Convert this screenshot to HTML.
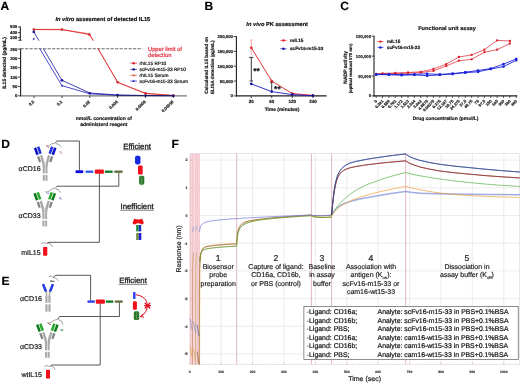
<!DOCTYPE html>
<html lang="en"><head><meta charset="utf-8"><title>Figure</title>
<style>html,body{margin:0;padding:0;background:#fff;overflow:hidden}svg{display:block}text{text-rendering:geometricPrecision;font-family:'Liberation Sans', Arial, sans-serif;}</style>
</head><body>
<svg width="520" height="384" viewBox="0 0 520 384">
<rect x="0" y="0" width="520" height="384" fill="#fff"/>
<g id="panelA">
<text x="0.6" y="9.9" font-size="12" font-weight="bold" text-anchor="start" fill="#000" stroke="#000" stroke-width="0.16">A</text>
<text x="102.8" y="20.6" font-size="5.7" font-weight="bold" text-anchor="middle" fill="#111" stroke="#111" stroke-width="0.2"><tspan font-style="italic">In vitro</tspan> assesment of detected IL15</text>
<line x1="20.3" y1="26.5" x2="20.3" y2="40.3" stroke="#1e1e1e" stroke-width="1.1"/>
<line x1="17.8" y1="26.9" x2="20.3" y2="26.9" stroke="#1e1e1e" stroke-width="0.8"/>
<text x="17.2" y="28.4" font-size="4.3" font-weight="bold" text-anchor="end" fill="#111" stroke="#111" stroke-width="0.16">500</text>
<line x1="17.8" y1="32.6" x2="20.3" y2="32.6" stroke="#1e1e1e" stroke-width="0.8"/>
<text x="17.2" y="34.1" font-size="4.3" font-weight="bold" text-anchor="end" fill="#111" stroke="#111" stroke-width="0.16">400</text>
<line x1="17.8" y1="37.6" x2="20.3" y2="37.6" stroke="#1e1e1e" stroke-width="0.8"/>
<text x="17.2" y="39.1" font-size="4.3" font-weight="bold" text-anchor="end" fill="#111" stroke="#111" stroke-width="0.16">300</text>
<line x1="18.3" y1="40.3" x2="21.8" y2="40.3" stroke="#1e1e1e" stroke-width="0.8"/>
<line x1="20.6" y1="48.4" x2="20.6" y2="96.3" stroke="#1e1e1e" stroke-width="1.1"/>
<line x1="18.0" y1="95.8" x2="20.6" y2="95.8" stroke="#1e1e1e" stroke-width="0.8"/>
<text x="17.4" y="97.3" font-size="4.3" font-weight="bold" text-anchor="end" fill="#111" stroke="#111" stroke-width="0.16">0</text>
<line x1="18.0" y1="86.44" x2="20.6" y2="86.44" stroke="#1e1e1e" stroke-width="0.8"/>
<text x="17.4" y="87.94" font-size="4.3" font-weight="bold" text-anchor="end" fill="#111" stroke="#111" stroke-width="0.16">50</text>
<line x1="18.0" y1="77.08" x2="20.6" y2="77.08" stroke="#1e1e1e" stroke-width="0.8"/>
<text x="17.4" y="78.58" font-size="4.3" font-weight="bold" text-anchor="end" fill="#111" stroke="#111" stroke-width="0.16">100</text>
<line x1="18.0" y1="67.72" x2="20.6" y2="67.72" stroke="#1e1e1e" stroke-width="0.8"/>
<text x="17.4" y="69.22" font-size="4.3" font-weight="bold" text-anchor="end" fill="#111" stroke="#111" stroke-width="0.16">150</text>
<line x1="18.0" y1="58.36" x2="20.6" y2="58.36" stroke="#1e1e1e" stroke-width="0.8"/>
<text x="17.4" y="59.86" font-size="4.3" font-weight="bold" text-anchor="end" fill="#111" stroke="#111" stroke-width="0.16">200</text>
<line x1="18.0" y1="48.99999999999999" x2="20.6" y2="48.99999999999999" stroke="#1e1e1e" stroke-width="0.8"/>
<text x="17.4" y="50.49999999999999" font-size="4.3" font-weight="bold" text-anchor="end" fill="#111" stroke="#111" stroke-width="0.16">250</text>
<line x1="34.0" y1="95.9" x2="34.0" y2="98.0" stroke="#1e1e1e" stroke-width="0.8"/>
<text x="34.6" y="102.0" font-size="4.15" font-weight="bold" text-anchor="end" fill="#111" stroke="#111" stroke-width="0.16" transform="rotate(-45 34.6 102.0)">0.5</text>
<line x1="62.0" y1="95.9" x2="62.0" y2="98.0" stroke="#1e1e1e" stroke-width="0.8"/>
<text x="62.6" y="102.0" font-size="4.15" font-weight="bold" text-anchor="end" fill="#111" stroke="#111" stroke-width="0.16" transform="rotate(-45 62.6 102.0)">0.1</text>
<line x1="89.8" y1="95.9" x2="89.8" y2="98.0" stroke="#1e1e1e" stroke-width="0.8"/>
<text x="90.39999999999999" y="102.0" font-size="4.15" font-weight="bold" text-anchor="end" fill="#111" stroke="#111" stroke-width="0.16" transform="rotate(-45 90.39999999999999 102.0)">0.02</text>
<line x1="117.6" y1="95.9" x2="117.6" y2="98.0" stroke="#1e1e1e" stroke-width="0.8"/>
<text x="118.19999999999999" y="102.0" font-size="4.15" font-weight="bold" text-anchor="end" fill="#111" stroke="#111" stroke-width="0.16" transform="rotate(-45 118.19999999999999 102.0)">0.004</text>
<line x1="145.5" y1="95.9" x2="145.5" y2="98.0" stroke="#1e1e1e" stroke-width="0.8"/>
<text x="146.1" y="102.0" font-size="4.15" font-weight="bold" text-anchor="end" fill="#111" stroke="#111" stroke-width="0.16" transform="rotate(-45 146.1 102.0)">0.0008</text>
<line x1="173.3" y1="95.9" x2="173.3" y2="98.0" stroke="#1e1e1e" stroke-width="0.8"/>
<text x="173.9" y="102.0" font-size="4.15" font-weight="bold" text-anchor="end" fill="#111" stroke="#111" stroke-width="0.16" transform="rotate(-45 173.9 102.0)">0.00016</text>
<line x1="20.6" y1="48.75" x2="142.5" y2="48.75" stroke="#2a2a2a" stroke-width="0.7" stroke-dasharray="3.2 1.3"/>
<text x="6.4" y="63" font-size="5.0" font-weight="bold" text-anchor="middle" fill="#111" stroke="#111" stroke-width="0.16" transform="rotate(-90 6.4 63)">IL15 detected (pg/mL)</text>
<text x="103.8" y="120.0" font-size="4.95" font-weight="bold" text-anchor="middle" fill="#111" stroke="#111" stroke-width="0.16">nmol/L concentration of</text>
<text x="103.8" y="126.0" font-size="4.95" font-weight="bold" text-anchor="middle" fill="#111" stroke="#111" stroke-width="0.16">administerd reagent</text>
<polyline points="33.80,29.60 61.90,29.80 88.60,33.60 93.00,40.30" fill="none" stroke="#e2452a" stroke-width="0.7" stroke-linejoin="round" stroke-linecap="round"/>
<polyline points="98.60,49.00 117.70,82.60 145.60,93.80 173.30,95.60" fill="none" stroke="#e2452a" stroke-width="0.6" stroke-linejoin="round" stroke-linecap="round"/>
<polyline points="33.80,29.40 61.90,29.40 89.40,34.60 93.20,40.30" fill="none" stroke="#dc1e28" stroke-width="0.8" stroke-linejoin="round" stroke-linecap="round"/>
<polyline points="98.00,49.00 117.70,82.20 145.60,93.30 173.30,95.40" fill="none" stroke="#dc1e28" stroke-width="0.8" stroke-linejoin="round" stroke-linecap="round"/>
<circle cx="33.80" cy="29.40" r="1.25" fill="#dc1e28"/>
<circle cx="61.90" cy="29.40" r="1.25" fill="#dc1e28"/>
<circle cx="89.40" cy="34.60" r="1.25" fill="#dc1e28"/>
<circle cx="117.70" cy="82.20" r="1.25" fill="#dc1e28"/>
<circle cx="145.60" cy="93.30" r="1.25" fill="#dc1e28"/>
<circle cx="173.30" cy="95.40" r="1.25" fill="#dc1e28"/>
<polyline points="33.80,31.90 38.80,40.30" fill="none" stroke="#14149a" stroke-width="0.8" stroke-linejoin="round" stroke-linecap="round"/>
<polyline points="40.00,49.00 61.90,85.60 89.80,93.80 117.60,95.30 145.50,95.60 173.30,95.70" fill="none" stroke="#1a1ac8" stroke-width="0.8" stroke-linejoin="round" stroke-linecap="round"/>
<polyline points="43.60,49.00 61.90,80.30 89.80,93.00 117.60,95.00 145.50,95.50 173.30,95.70" fill="none" stroke="#14149a" stroke-width="0.8" stroke-linejoin="round" stroke-linecap="round"/>
<circle cx="33.80" cy="31.90" r="1.3" fill="#14149a"/>
<polygon points="32.60,38.34 35.00,38.34 33.80,40.50" fill="#1a1ac8"/>
<circle cx="61.90" cy="80.30" r="1.35" fill="#14149a"/>
<polygon points="60.70,86.56 63.10,86.56 61.90,84.40" fill="#1a1ac8"/>
<circle cx="89.80" cy="93.20" r="1.25" fill="#14149a"/>
<circle cx="117.60" cy="95.10" r="1.25" fill="#14149a"/>
<circle cx="145.50" cy="95.50" r="1.25" fill="#14149a"/>
<circle cx="173.30" cy="95.70" r="1.25" fill="#14149a"/>
<line x1="20.1" y1="95.85" x2="187" y2="95.85" stroke="#1e1e1e" stroke-width="1.1" opacity="0.6"/>
<text x="148" y="51.3" font-size="5.75" font-weight="normal" text-anchor="start" fill="#e0303c" stroke="#e0303c" stroke-width="0.2">Upper limit of</text>
<text x="148" y="57.4" font-size="5.75" font-weight="normal" text-anchor="start" fill="#e0303c" stroke="#e0303c" stroke-width="0.2">detection</text>
<line x1="130.4" y1="63.2" x2="137.0" y2="63.2" stroke="#dc1e28" stroke-width="0.7"/>
<circle cx="133.70" cy="63.20" r="1.2" fill="#dc1e28"/>
<text x="139.6" y="64.85000000000001" font-size="4.75" font-weight="normal" text-anchor="start" fill="#111" stroke="#111" stroke-width="0.2">rhIL15 RP10</text>
<line x1="130.4" y1="69.4" x2="137.0" y2="69.4" stroke="#14149a" stroke-width="0.7"/>
<circle cx="133.70" cy="69.40" r="1.2" fill="#14149a"/>
<text x="139.6" y="71.05000000000001" font-size="4.75" font-weight="normal" text-anchor="start" fill="#111" stroke="#111" stroke-width="0.2">scFv16-m15-33 RP10</text>
<line x1="130.4" y1="75.3" x2="137.0" y2="75.3" stroke="#e2452a" stroke-width="0.7"/>
<polygon points="132.50,76.26 134.90,76.26 133.70,74.10" fill="#e2452a"/>
<text x="139.6" y="76.95" font-size="4.75" font-weight="normal" text-anchor="start" fill="#111" stroke="#111" stroke-width="0.2">rhIL15 Serum</text>
<line x1="130.4" y1="81.0" x2="137.0" y2="81.0" stroke="#1a1ac8" stroke-width="0.7"/>
<polygon points="132.50,81.96 134.90,81.96 133.70,79.80" fill="#1a1ac8"/>
<text x="139.6" y="82.65" font-size="4.75" font-weight="normal" text-anchor="start" fill="#111" stroke="#111" stroke-width="0.2">scFv16-m15-33 Serum</text>
</g>
<g id="panelB">
<text x="204.4" y="9.9" font-size="12" font-weight="bold" text-anchor="start" fill="#000" stroke="#000" stroke-width="0.16">B</text>
<text x="277.2" y="25.8" font-size="5.7" font-weight="bold" text-anchor="middle" fill="#111" stroke="#111" stroke-width="0.2"><tspan font-style="italic">In vivo</tspan> PK assessment</text>
<line x1="236.4" y1="36.0" x2="236.4" y2="96.4" stroke="#1e1e1e" stroke-width="1.1"/>
<line x1="235.9" y1="95.85" x2="326.6" y2="95.85" stroke="#1e1e1e" stroke-width="1.1"/>
<line x1="233.6" y1="95.9" x2="236.4" y2="95.9" stroke="#1e1e1e" stroke-width="0.8"/>
<text x="233.0" y="97.4" font-size="4.3" font-weight="bold" text-anchor="end" fill="#111" stroke="#111" stroke-width="0.16">0</text>
<line x1="233.6" y1="81.05000000000001" x2="236.4" y2="81.05000000000001" stroke="#1e1e1e" stroke-width="0.8"/>
<text x="233.0" y="82.55000000000001" font-size="4.3" font-weight="bold" text-anchor="end" fill="#111" stroke="#111" stroke-width="0.16">50,000</text>
<line x1="233.6" y1="66.2" x2="236.4" y2="66.2" stroke="#1e1e1e" stroke-width="0.8"/>
<text x="233.0" y="67.7" font-size="4.3" font-weight="bold" text-anchor="end" fill="#111" stroke="#111" stroke-width="0.16">100,000</text>
<line x1="233.6" y1="51.35000000000001" x2="236.4" y2="51.35000000000001" stroke="#1e1e1e" stroke-width="0.8"/>
<text x="233.0" y="52.85000000000001" font-size="4.3" font-weight="bold" text-anchor="end" fill="#111" stroke="#111" stroke-width="0.16">150,000</text>
<line x1="233.6" y1="36.50000000000001" x2="236.4" y2="36.50000000000001" stroke="#1e1e1e" stroke-width="0.8"/>
<text x="233.0" y="38.00000000000001" font-size="4.3" font-weight="bold" text-anchor="end" fill="#111" stroke="#111" stroke-width="0.16">200,000</text>
<line x1="251.3" y1="95.9" x2="251.3" y2="98.2" stroke="#1e1e1e" stroke-width="0.8"/>
<text x="251.3" y="103.2" font-size="4.5" font-weight="bold" text-anchor="middle" fill="#111" stroke="#111" stroke-width="0.16">30</text>
<line x1="271.7" y1="95.9" x2="271.7" y2="98.2" stroke="#1e1e1e" stroke-width="0.8"/>
<text x="271.7" y="103.2" font-size="4.5" font-weight="bold" text-anchor="middle" fill="#111" stroke="#111" stroke-width="0.16">60</text>
<line x1="292.2" y1="95.9" x2="292.2" y2="98.2" stroke="#1e1e1e" stroke-width="0.8"/>
<text x="292.2" y="103.2" font-size="4.5" font-weight="bold" text-anchor="middle" fill="#111" stroke="#111" stroke-width="0.16">120</text>
<line x1="313.0" y1="95.9" x2="313.0" y2="98.2" stroke="#1e1e1e" stroke-width="0.8"/>
<text x="313.0" y="103.2" font-size="4.5" font-weight="bold" text-anchor="middle" fill="#111" stroke="#111" stroke-width="0.16">240</text>
<text x="282.0" y="111.0" font-size="4.9" font-weight="bold" text-anchor="middle" fill="#111" stroke="#111" stroke-width="0.16">Time (minutes)</text>
<text x="208.3" y="65.3" font-size="4.75" font-weight="bold" text-anchor="middle" fill="#111" stroke="#111" stroke-width="0.16" transform="rotate(-90 208.3 65.3)">Calculated IL15 based on</text>
<text x="214.0" y="67.2" font-size="4.65" font-weight="bold" text-anchor="middle" fill="#111" stroke="#111" stroke-width="0.16" transform="rotate(-90 214.0 67.2)">ELISA detection (pg/mL)</text>
<line x1="251.3" y1="40.0" x2="251.3" y2="55.0" stroke="#f08a8a" stroke-width="0.7"/>
<line x1="249.9" y1="40.0" x2="252.7" y2="40.0" stroke="#f08a8a" stroke-width="0.7"/>
<line x1="271.7" y1="79.0" x2="271.7" y2="83.0" stroke="#f08a8a" stroke-width="0.7"/>
<line x1="251.3" y1="57.4" x2="251.3" y2="81.0" stroke="#222" stroke-width="0.9"/>
<line x1="249.2" y1="57.4" x2="253.4" y2="57.4" stroke="#222" stroke-width="0.9"/>
<line x1="249.6" y1="81.0" x2="253.0" y2="81.0" stroke="#222" stroke-width="0.9"/>
<line x1="271.7" y1="82.2" x2="271.7" y2="90.6" stroke="#222" stroke-width="0.9"/>
<line x1="269.9" y1="82.2" x2="273.5" y2="82.2" stroke="#222" stroke-width="0.9"/>
<text x="256.6" y="74.4" font-size="8.6" font-weight="bold" text-anchor="middle" fill="#111" stroke="#111" stroke-width="0.16">**</text>
<text x="277.4" y="91.8" font-size="8.6" font-weight="bold" text-anchor="middle" fill="#111" stroke="#111" stroke-width="0.16">**</text>
<polyline points="251.30,47.70 271.70,81.00 292.20,93.50 313.00,95.40" fill="none" stroke="#dc1e28" stroke-width="0.9" stroke-linejoin="round" stroke-linecap="round"/>
<circle cx="251.30" cy="47.70" r="1.3" fill="#dc1e28"/>
<circle cx="271.70" cy="81.00" r="1.3" fill="#dc1e28"/>
<circle cx="292.20" cy="93.50" r="1.3" fill="#dc1e28"/>
<circle cx="313.00" cy="95.40" r="1.3" fill="#dc1e28"/>
<polyline points="251.30,83.90 271.70,91.60 292.20,94.60 313.00,95.70" fill="none" stroke="#1a1ac8" stroke-width="0.9" stroke-linejoin="round" stroke-linecap="round"/>
<circle cx="251.30" cy="83.90" r="1.35" fill="#14149a"/>
<circle cx="271.70" cy="91.60" r="1.35" fill="#14149a"/>
<circle cx="292.20" cy="94.60" r="1.35" fill="#14149a"/>
<circle cx="313.00" cy="95.70" r="1.35" fill="#14149a"/>
<line x1="280.3" y1="40.4" x2="286.6" y2="40.4" stroke="#dc1e28" stroke-width="0.7"/>
<circle cx="283.50" cy="40.40" r="1.2" fill="#dc1e28"/>
<text x="290.0" y="42.0" font-size="4.65" font-weight="bold" text-anchor="start" fill="#111" stroke="#111" stroke-width="0.16">mIL15</text>
<line x1="280.3" y1="48.8" x2="286.6" y2="48.8" stroke="#14149a" stroke-width="0.7"/>
<circle cx="283.50" cy="48.80" r="1.2" fill="#14149a"/>
<text x="290.0" y="50.4" font-size="4.65" font-weight="bold" text-anchor="start" fill="#111" stroke="#111" stroke-width="0.16">scFv16-m15-33</text>
</g>
<g id="panelC">
<text x="340.2" y="9.9" font-size="12" font-weight="bold" text-anchor="start" fill="#000" stroke="#000" stroke-width="0.16">C</text>
<text x="447.0" y="30.0" font-size="5.65" font-weight="bold" text-anchor="middle" fill="#111" stroke="#111" stroke-width="0.16">Functional unit assay</text>
<line x1="374.0" y1="35.7" x2="374.0" y2="96.4" stroke="#1e1e1e" stroke-width="1.1"/>
<line x1="373.5" y1="95.85" x2="517.4" y2="95.85" stroke="#1e1e1e" stroke-width="1.1"/>
<line x1="371.6" y1="95.9" x2="374.2" y2="95.9" stroke="#1e1e1e" stroke-width="0.8"/>
<text x="371.0" y="97.4" font-size="4.2" font-weight="bold" text-anchor="end" fill="#111" stroke="#111" stroke-width="0.16">0</text>
<line x1="371.6" y1="76.0" x2="374.2" y2="76.0" stroke="#1e1e1e" stroke-width="0.8"/>
<text x="371.0" y="77.5" font-size="4.2" font-weight="bold" text-anchor="end" fill="#111" stroke="#111" stroke-width="0.16">50,000</text>
<line x1="371.6" y1="56.1" x2="374.2" y2="56.1" stroke="#1e1e1e" stroke-width="0.8"/>
<text x="371.0" y="57.6" font-size="4.2" font-weight="bold" text-anchor="end" fill="#111" stroke="#111" stroke-width="0.16">100,000</text>
<line x1="371.6" y1="36.2" x2="374.2" y2="36.2" stroke="#1e1e1e" stroke-width="0.8"/>
<text x="371.0" y="37.7" font-size="4.2" font-weight="bold" text-anchor="end" fill="#111" stroke="#111" stroke-width="0.16">150,000</text>
<line x1="376.2" y1="95.9" x2="376.2" y2="98.0" stroke="#1e1e1e" stroke-width="0.7"/>
<text x="377.4" y="101.5" font-size="4.0" font-weight="bold" text-anchor="end" fill="#111" stroke="#111" stroke-width="0.16" transform="rotate(-45 377.4 101.5)">0</text>
<line x1="382.565" y1="95.9" x2="382.565" y2="98.0" stroke="#1e1e1e" stroke-width="0.7"/>
<text x="383.765" y="101.5" font-size="4.0" font-weight="bold" text-anchor="end" fill="#111" stroke="#111" stroke-width="0.16" transform="rotate(-45 383.765 101.5)">0.391</text>
<line x1="388.93" y1="95.9" x2="388.93" y2="98.0" stroke="#1e1e1e" stroke-width="0.7"/>
<text x="390.13" y="101.5" font-size="4.0" font-weight="bold" text-anchor="end" fill="#111" stroke="#111" stroke-width="0.16" transform="rotate(-45 390.13 101.5)">0.586</text>
<line x1="395.29499999999996" y1="95.9" x2="395.29499999999996" y2="98.0" stroke="#1e1e1e" stroke-width="0.7"/>
<text x="396.49499999999995" y="101.5" font-size="4.0" font-weight="bold" text-anchor="end" fill="#111" stroke="#111" stroke-width="0.16" transform="rotate(-45 396.49499999999995 101.5)">0.782</text>
<line x1="401.65999999999997" y1="95.9" x2="401.65999999999997" y2="98.0" stroke="#1e1e1e" stroke-width="0.7"/>
<text x="402.85999999999996" y="101.5" font-size="4.0" font-weight="bold" text-anchor="end" fill="#111" stroke="#111" stroke-width="0.16" transform="rotate(-45 402.85999999999996 101.5)">1.172</text>
<line x1="408.025" y1="95.9" x2="408.025" y2="98.0" stroke="#1e1e1e" stroke-width="0.7"/>
<text x="409.22499999999997" y="101.5" font-size="4.0" font-weight="bold" text-anchor="end" fill="#111" stroke="#111" stroke-width="0.16" transform="rotate(-45 409.22499999999997 101.5)">1.523</text>
<line x1="414.39" y1="95.9" x2="414.39" y2="98.0" stroke="#1e1e1e" stroke-width="0.7"/>
<text x="415.59" y="101.5" font-size="4.0" font-weight="bold" text-anchor="end" fill="#111" stroke="#111" stroke-width="0.16" transform="rotate(-45 415.59 101.5)">2.344</text>
<line x1="420.755" y1="95.9" x2="420.755" y2="98.0" stroke="#1e1e1e" stroke-width="0.7"/>
<text x="421.955" y="101.5" font-size="4.0" font-weight="bold" text-anchor="end" fill="#111" stroke="#111" stroke-width="0.16" transform="rotate(-45 421.955 101.5)">3.042</text>
<line x1="427.12" y1="95.9" x2="427.12" y2="98.0" stroke="#1e1e1e" stroke-width="0.7"/>
<text x="428.32" y="101.5" font-size="4.0" font-weight="bold" text-anchor="end" fill="#111" stroke="#111" stroke-width="0.16" transform="rotate(-45 428.32 101.5)">4.6875</text>
<line x1="433.485" y1="95.9" x2="433.485" y2="98.0" stroke="#1e1e1e" stroke-width="0.7"/>
<text x="434.685" y="101.5" font-size="4.0" font-weight="bold" text-anchor="end" fill="#111" stroke="#111" stroke-width="0.16" transform="rotate(-45 434.685 101.5)">6.09375</text>
<line x1="439.85" y1="95.9" x2="439.85" y2="98.0" stroke="#1e1e1e" stroke-width="0.7"/>
<text x="441.05" y="101.5" font-size="4.0" font-weight="bold" text-anchor="end" fill="#111" stroke="#111" stroke-width="0.16" transform="rotate(-45 441.05 101.5)">9.375</text>
<line x1="446.215" y1="95.9" x2="446.215" y2="98.0" stroke="#1e1e1e" stroke-width="0.7"/>
<text x="447.41499999999996" y="101.5" font-size="4.0" font-weight="bold" text-anchor="end" fill="#111" stroke="#111" stroke-width="0.16" transform="rotate(-45 447.41499999999996 101.5)">12.187</text>
<line x1="452.58" y1="95.9" x2="452.58" y2="98.0" stroke="#1e1e1e" stroke-width="0.7"/>
<text x="453.78" y="101.5" font-size="4.0" font-weight="bold" text-anchor="end" fill="#111" stroke="#111" stroke-width="0.16" transform="rotate(-45 453.78 101.5)">18.75</text>
<line x1="458.945" y1="95.9" x2="458.945" y2="98.0" stroke="#1e1e1e" stroke-width="0.7"/>
<text x="460.145" y="101.5" font-size="4.0" font-weight="bold" text-anchor="end" fill="#111" stroke="#111" stroke-width="0.16" transform="rotate(-45 460.145 101.5)">24.375</text>
<line x1="465.31" y1="95.9" x2="465.31" y2="98.0" stroke="#1e1e1e" stroke-width="0.7"/>
<text x="466.51" y="101.5" font-size="4.0" font-weight="bold" text-anchor="end" fill="#111" stroke="#111" stroke-width="0.16" transform="rotate(-45 466.51 101.5)">37.5</text>
<line x1="471.675" y1="95.9" x2="471.675" y2="98.0" stroke="#1e1e1e" stroke-width="0.7"/>
<text x="472.875" y="101.5" font-size="4.0" font-weight="bold" text-anchor="end" fill="#111" stroke="#111" stroke-width="0.16" transform="rotate(-45 472.875 101.5)">48.75</text>
<line x1="478.03999999999996" y1="95.9" x2="478.03999999999996" y2="98.0" stroke="#1e1e1e" stroke-width="0.7"/>
<text x="479.23999999999995" y="101.5" font-size="4.0" font-weight="bold" text-anchor="end" fill="#111" stroke="#111" stroke-width="0.16" transform="rotate(-45 479.23999999999995 101.5)">75</text>
<line x1="484.405" y1="95.9" x2="484.405" y2="98.0" stroke="#1e1e1e" stroke-width="0.7"/>
<text x="485.60499999999996" y="101.5" font-size="4.0" font-weight="bold" text-anchor="end" fill="#111" stroke="#111" stroke-width="0.16" transform="rotate(-45 485.60499999999996 101.5)">97.5</text>
<line x1="490.77" y1="95.9" x2="490.77" y2="98.0" stroke="#1e1e1e" stroke-width="0.7"/>
<text x="491.96999999999997" y="101.5" font-size="4.0" font-weight="bold" text-anchor="end" fill="#111" stroke="#111" stroke-width="0.16" transform="rotate(-45 491.96999999999997 101.5)">150</text>
<line x1="497.135" y1="95.9" x2="497.135" y2="98.0" stroke="#1e1e1e" stroke-width="0.7"/>
<text x="498.335" y="101.5" font-size="4.0" font-weight="bold" text-anchor="end" fill="#111" stroke="#111" stroke-width="0.16" transform="rotate(-45 498.335 101.5)">195</text>
<line x1="503.5" y1="95.9" x2="503.5" y2="98.0" stroke="#1e1e1e" stroke-width="0.7"/>
<text x="504.7" y="101.5" font-size="4.0" font-weight="bold" text-anchor="end" fill="#111" stroke="#111" stroke-width="0.16" transform="rotate(-45 504.7 101.5)">300</text>
<line x1="509.865" y1="95.9" x2="509.865" y2="98.0" stroke="#1e1e1e" stroke-width="0.7"/>
<text x="511.065" y="101.5" font-size="4.0" font-weight="bold" text-anchor="end" fill="#111" stroke="#111" stroke-width="0.16" transform="rotate(-45 511.065 101.5)">390</text>
<line x1="516.23" y1="95.9" x2="516.23" y2="98.0" stroke="#1e1e1e" stroke-width="0.7"/>
<text x="517.4300000000001" y="101.5" font-size="4.0" font-weight="bold" text-anchor="end" fill="#111" stroke="#111" stroke-width="0.16" transform="rotate(-45 517.4300000000001 101.5)">600</text>
<text x="445.6" y="119.8" font-size="4.9" font-weight="bold" text-anchor="middle" fill="#111" stroke="#111" stroke-width="0.16">Drug concentration (pmol/L)</text>
<text x="346.7" y="67.3" font-size="5.0" font-weight="bold" text-anchor="middle" fill="#111" stroke="#111" stroke-width="0.16" transform="rotate(-90 346.7 67.3)">NADP activity</text>
<text x="352.2" y="68.5" font-size="4.3" font-weight="bold" text-anchor="middle" fill="#111" stroke="#111" stroke-width="0.16" transform="rotate(-90 352.2 68.5)">(optical readout 570 nm)</text>
<polyline points="376.20,74.00 382.56,73.40 395.29,73.00 408.02,72.50 420.75,71.80 433.49,69.00 446.21,64.10 458.94,57.00 471.68,54.90 484.40,49.70 497.13,40.40 509.87,41.00" fill="none" stroke="#dc1e28" stroke-width="0.7" stroke-linejoin="round" stroke-linecap="round"/>
<circle cx="376.20" cy="74.00" r="1.15" fill="#dc1e28"/>
<circle cx="382.56" cy="73.40" r="1.15" fill="#dc1e28"/>
<circle cx="395.29" cy="73.00" r="1.15" fill="#dc1e28"/>
<circle cx="408.02" cy="72.50" r="1.15" fill="#dc1e28"/>
<circle cx="420.75" cy="71.80" r="1.15" fill="#dc1e28"/>
<circle cx="433.49" cy="69.00" r="1.15" fill="#dc1e28"/>
<circle cx="446.21" cy="64.10" r="1.15" fill="#dc1e28"/>
<circle cx="458.94" cy="57.00" r="1.15" fill="#dc1e28"/>
<circle cx="471.68" cy="54.90" r="1.15" fill="#dc1e28"/>
<circle cx="484.40" cy="49.70" r="1.15" fill="#dc1e28"/>
<circle cx="497.13" cy="40.40" r="1.15" fill="#dc1e28"/>
<circle cx="509.87" cy="41.00" r="1.15" fill="#dc1e28"/>
<polyline points="376.20,74.30 382.56,73.80 395.29,73.50 408.02,73.20 420.75,72.60 433.49,70.90 446.21,66.00 458.94,60.70 471.68,59.30 484.40,52.20 497.13,49.70 509.87,43.50" fill="none" stroke="#dc1e28" stroke-width="0.7" stroke-linejoin="round" stroke-linecap="round"/>
<circle cx="376.20" cy="74.30" r="1.15" fill="#dc1e28"/>
<circle cx="382.56" cy="73.80" r="1.15" fill="#dc1e28"/>
<circle cx="395.29" cy="73.50" r="1.15" fill="#dc1e28"/>
<circle cx="408.02" cy="73.20" r="1.15" fill="#dc1e28"/>
<circle cx="420.75" cy="72.60" r="1.15" fill="#dc1e28"/>
<circle cx="433.49" cy="70.90" r="1.15" fill="#dc1e28"/>
<circle cx="446.21" cy="66.00" r="1.15" fill="#dc1e28"/>
<circle cx="458.94" cy="60.70" r="1.15" fill="#dc1e28"/>
<circle cx="471.68" cy="59.30" r="1.15" fill="#dc1e28"/>
<circle cx="484.40" cy="52.20" r="1.15" fill="#dc1e28"/>
<circle cx="497.13" cy="49.70" r="1.15" fill="#dc1e28"/>
<circle cx="509.87" cy="43.50" r="1.15" fill="#dc1e28"/>
<polyline points="376.20,74.30 388.93,74.30 401.66,74.50 414.39,74.30 427.12,73.80 439.85,74.40 452.58,73.60 465.31,72.20 478.04,70.50 490.77,68.60 503.50,64.10 516.23,58.90" fill="none" stroke="#1a22d8" stroke-width="0.9" stroke-linejoin="round" stroke-linecap="round"/>
<rect x="375.05" y="73.15" width="2.3" height="2.3" fill="#1a22d8"/>
<rect x="387.78" y="73.15" width="2.3" height="2.3" fill="#1a22d8"/>
<rect x="400.51" y="73.35" width="2.3" height="2.3" fill="#1a22d8"/>
<rect x="413.24" y="73.15" width="2.3" height="2.3" fill="#1a22d8"/>
<rect x="425.97" y="72.65" width="2.3" height="2.3" fill="#1a22d8"/>
<rect x="438.70" y="73.25" width="2.3" height="2.3" fill="#1a22d8"/>
<rect x="451.43" y="72.45" width="2.3" height="2.3" fill="#1a22d8"/>
<rect x="464.16" y="71.05" width="2.3" height="2.3" fill="#1a22d8"/>
<rect x="476.89" y="69.35" width="2.3" height="2.3" fill="#1a22d8"/>
<rect x="489.62" y="67.45" width="2.3" height="2.3" fill="#1a22d8"/>
<rect x="502.35" y="62.95" width="2.3" height="2.3" fill="#1a22d8"/>
<rect x="515.08" y="57.75" width="2.3" height="2.3" fill="#1a22d8"/>
<polyline points="376.20,74.60 388.93,74.80 401.66,75.20 414.39,74.90 427.12,75.70 439.85,74.90 452.58,74.00 465.31,72.70 478.04,71.80 490.77,69.00 503.50,66.60 516.23,60.30" fill="none" stroke="#1a22d8" stroke-width="0.9" stroke-linejoin="round" stroke-linecap="round"/>
<rect x="375.05" y="73.45" width="2.3" height="2.3" fill="#1a22d8"/>
<rect x="387.78" y="73.65" width="2.3" height="2.3" fill="#1a22d8"/>
<rect x="400.51" y="74.05" width="2.3" height="2.3" fill="#1a22d8"/>
<rect x="413.24" y="73.75" width="2.3" height="2.3" fill="#1a22d8"/>
<rect x="425.97" y="74.55" width="2.3" height="2.3" fill="#1a22d8"/>
<rect x="438.70" y="73.75" width="2.3" height="2.3" fill="#1a22d8"/>
<rect x="451.43" y="72.85" width="2.3" height="2.3" fill="#1a22d8"/>
<rect x="464.16" y="71.55" width="2.3" height="2.3" fill="#1a22d8"/>
<rect x="476.89" y="70.65" width="2.3" height="2.3" fill="#1a22d8"/>
<rect x="489.62" y="67.85" width="2.3" height="2.3" fill="#1a22d8"/>
<rect x="502.35" y="65.45" width="2.3" height="2.3" fill="#1a22d8"/>
<rect x="515.08" y="59.15" width="2.3" height="2.3" fill="#1a22d8"/>
<line x1="377.4" y1="41.6" x2="383.4" y2="41.6" stroke="#dc1e28" stroke-width="0.7"/>
<circle cx="380.40" cy="41.60" r="1.2" fill="#dc1e28"/>
<text x="387.0" y="43.2" font-size="4.6" font-weight="bold" text-anchor="start" fill="#111" stroke="#111" stroke-width="0.16">mIL15</text>
<line x1="377.4" y1="47.4" x2="383.4" y2="47.4" stroke="#1a22d8" stroke-width="0.7"/>
<circle cx="380.40" cy="47.40" r="1.25" fill="#1a22d8"/>
<text x="387.0" y="49.0" font-size="4.6" font-weight="bold" text-anchor="start" fill="#111" stroke="#111" stroke-width="0.16">scFv16-m15-33</text>
</g>
<g id="panelD">
<text x="1.2" y="147.7" font-size="12" font-weight="bold" text-anchor="start" fill="#000" stroke="#000" stroke-width="0.16">D</text>
<line x1="35.05" y1="147.70" x2="37.65" y2="154.70" stroke="#0a10c4" stroke-width="2.7"/>
<line x1="38.20" y1="156.30" x2="40.20" y2="162.00" stroke="#858585" stroke-width="2.5"/>
<line x1="38.05" y1="146.80" x2="40.55" y2="153.80" stroke="#2434dc" stroke-width="2.7"/>
<path d="M41.05,155.40 L42.65,160.40 Q43.85,163.60 43.90,167.00" fill="none" stroke="#a9a9a9" stroke-width="2.5"/>
<line x1="36.55" y1="147.20" x2="41.55" y2="161.60" stroke="#fff" stroke-width="0.45"/>
<line x1="55.25" y1="147.70" x2="52.65" y2="154.70" stroke="#0a10c4" stroke-width="2.7"/>
<line x1="52.10" y1="156.30" x2="50.10" y2="162.00" stroke="#858585" stroke-width="2.5"/>
<line x1="52.25" y1="146.80" x2="49.75" y2="153.80" stroke="#2434dc" stroke-width="2.7"/>
<path d="M49.25,155.40 L47.65,160.40 Q46.45,163.60 46.40,167.00" fill="none" stroke="#a9a9a9" stroke-width="2.5"/>
<line x1="53.75" y1="147.20" x2="48.75" y2="161.60" stroke="#fff" stroke-width="0.45"/>
<line x1="43.90" y1="166.60" x2="43.90" y2="173.40" stroke="#a9a9a9" stroke-width="2.2"/>
<line x1="43.90" y1="174.90" x2="43.90" y2="180.80" stroke="#a9a9a9" stroke-width="2.2"/>
<line x1="46.40" y1="166.60" x2="46.40" y2="173.40" stroke="#a9a9a9" stroke-width="2.2"/>
<line x1="46.40" y1="174.90" x2="46.40" y2="180.80" stroke="#a9a9a9" stroke-width="2.2"/>
<line x1="45.15" y1="163.00" x2="45.15" y2="180.80" stroke="#fff" stroke-width="0.4"/>
<text x="18.6" y="171.0" font-size="7.0" font-weight="normal" text-anchor="start" fill="#151515" stroke="#151515" stroke-width="0.2">αCD16</text>
<path d="M48.0,146.4 Q51.8,143.20000000000002 54.4,143.20000000000002 L55.6,142.4 L56.2,143.8 Q59.400000000000006,143.3 61.2,147.2" fill="none" stroke="#444" stroke-width="0.5"/>
<text x="46.0" y="147.2" font-size="2.8" font-weight="normal" text-anchor="start" fill="#b06a6a" stroke="#b06a6a" stroke-width="0.2">V</text>
<text x="47.7" y="147.89999999999998" font-size="1.9" font-weight="normal" text-anchor="start" fill="#b06a6a" stroke="#b06a6a" stroke-width="0.2">H</text>
<text x="59.6" y="153.0" font-size="2.8" font-weight="normal" text-anchor="start" fill="#c06a80" stroke="#c06a80" stroke-width="0.2">V</text>
<text x="61.300000000000004" y="153.7" font-size="1.9" font-weight="normal" text-anchor="start" fill="#c06a80" stroke="#c06a80" stroke-width="0.2">L</text>
<polyline points="55.6,142.4 57.2,141.0 79.4,141.0 79.4,170.2" fill="none" stroke="#444" stroke-width="0.9"/>
<line x1="75.6" y1="171.7" x2="83.2" y2="171.7" stroke="#0a0ae0" stroke-width="2.8"/>
<line x1="83.2" y1="171.7" x2="85.6" y2="171.7" stroke="#b8b8c8" stroke-width="0.5"/>
<line x1="85.6" y1="171.7" x2="93.2" y2="171.7" stroke="#2a5ae6" stroke-width="2.3"/>
<line x1="93.2" y1="171.7" x2="95.0" y2="171.7" stroke="#b8b8c8" stroke-width="0.5"/>
<rect x="94.9" y="169.6" width="9.0" height="4.2" rx="0.8" fill="#f0101a"/>
<line x1="103.8" y1="171.7" x2="105.0" y2="171.7" stroke="#90a090" stroke-width="0.5"/>
<line x1="105.0" y1="171.7" x2="112.6" y2="171.7" stroke="#0a7a22" stroke-width="2.3"/>
<line x1="112.6" y1="171.7" x2="114.4" y2="171.7" stroke="#90a090" stroke-width="0.5"/>
<line x1="114.4" y1="171.7" x2="122.6" y2="171.7" stroke="#5f6e3c" stroke-width="2.3"/>
<polyline points="56.0,187.0 57.4,186.2 118.8,186.2 118.8,172.6" fill="none" stroke="#444" stroke-width="0.9"/>
<polyline points="47.6,242.8 49.0,242.3 99.4,242.3 99.4,173.6" fill="none" stroke="#444" stroke-width="0.9"/>
<line x1="34.65" y1="193.30" x2="37.25" y2="200.30" stroke="#0c7a18" stroke-width="2.7"/>
<line x1="37.80" y1="201.90" x2="39.80" y2="207.60" stroke="#858585" stroke-width="2.5"/>
<line x1="37.65" y1="192.40" x2="40.15" y2="199.40" stroke="#2aa62e" stroke-width="2.7"/>
<path d="M40.65,201.00 L42.25,206.00 Q43.45,209.20 43.50,212.60" fill="none" stroke="#a9a9a9" stroke-width="2.5"/>
<line x1="36.15" y1="192.80" x2="41.15" y2="207.20" stroke="#fff" stroke-width="0.45"/>
<line x1="54.85" y1="193.30" x2="52.25" y2="200.30" stroke="#0c7a18" stroke-width="2.7"/>
<line x1="51.70" y1="201.90" x2="49.70" y2="207.60" stroke="#858585" stroke-width="2.5"/>
<line x1="51.85" y1="192.40" x2="49.35" y2="199.40" stroke="#2aa62e" stroke-width="2.7"/>
<path d="M48.85,201.00 L47.25,206.00 Q46.05,209.20 46.00,212.60" fill="none" stroke="#a9a9a9" stroke-width="2.5"/>
<line x1="53.35" y1="192.80" x2="48.35" y2="207.20" stroke="#fff" stroke-width="0.45"/>
<line x1="43.50" y1="212.20" x2="43.50" y2="219.00" stroke="#a9a9a9" stroke-width="2.2"/>
<line x1="43.50" y1="220.50" x2="43.50" y2="226.40" stroke="#a9a9a9" stroke-width="2.2"/>
<line x1="46.00" y1="212.20" x2="46.00" y2="219.00" stroke="#a9a9a9" stroke-width="2.2"/>
<line x1="46.00" y1="220.50" x2="46.00" y2="226.40" stroke="#a9a9a9" stroke-width="2.2"/>
<line x1="44.75" y1="208.60" x2="44.75" y2="226.40" stroke="#fff" stroke-width="0.4"/>
<text x="18.6" y="217.6" font-size="7.0" font-weight="normal" text-anchor="start" fill="#151515" stroke="#151515" stroke-width="0.2">αCD33</text>
<path d="M48.0,191.8 Q51.7,188.5 54.199999999999996,188.4 L55.4,187.6 L56.0,189.0 Q59.0,188.7 60.6,192.8" fill="none" stroke="#444" stroke-width="0.5"/>
<text x="45.6" y="193.0" font-size="2.8" font-weight="normal" text-anchor="start" fill="#6878b8" stroke="#6878b8" stroke-width="0.2">V</text>
<text x="47.300000000000004" y="193.7" font-size="1.9" font-weight="normal" text-anchor="start" fill="#6878b8" stroke="#6878b8" stroke-width="0.2">H</text>
<text x="59.0" y="199.0" font-size="2.8" font-weight="normal" text-anchor="start" fill="#6878b8" stroke="#6878b8" stroke-width="0.2">V</text>
<text x="60.7" y="199.7" font-size="1.9" font-weight="normal" text-anchor="start" fill="#6878b8" stroke="#6878b8" stroke-width="0.2">L</text>
<text x="21.2" y="254.6" font-size="7.0" font-weight="normal" text-anchor="start" fill="#151515" stroke="#151515" stroke-width="0.2">mIL15</text>
<rect x="43.1" y="247.0" width="4.2" height="8.7" rx="0.7" fill="#f0101a"/>
<path d="M41.2,243.4 Q43.5,242.0 45.6,243.2 T47.6,242.6 Q51.5,243.6 52.6,246.8" fill="none" stroke="#444" stroke-width="0.5"/>
<text x="137.1" y="148.5" font-size="7.8" font-weight="normal" text-anchor="middle" fill="#1a1a1a" stroke="#1a1a1a" stroke-width="0.2" style="stroke-width:0.3">Efficient</text>
<line x1="123.0" y1="149.8" x2="151.3" y2="149.8" stroke="#222" stroke-width="0.55"/>
<rect x="135.0" y="155.8" width="5.5" height="8.6" rx="1.8" fill="#1a2ae0"/>
<line x1="137.7" y1="154.6" x2="137.7" y2="156.0" stroke="#8090c0" stroke-width="0.5"/>
<rect x="138.0" y="165.6" width="4.7" height="8.8" rx="1.2" fill="#f0101a"/>
<rect x="139.1" y="175.7" width="5.2" height="9.0" rx="1.6" fill="#2d7a2a"/>
<line x1="141.6" y1="176.6" x2="141.6" y2="184.0" stroke="#8fb08a" stroke-width="0.5"/>
<line x1="141.7" y1="184.6" x2="141.7" y2="185.8" stroke="#90a090" stroke-width="0.5"/>
<text x="137.1" y="209.0" font-size="7.8" font-weight="normal" text-anchor="middle" fill="#1a1a1a" stroke="#1a1a1a" stroke-width="0.2" style="stroke-width:0.3">Inefficient</text>
<line x1="120.3" y1="210.3" x2="154.0" y2="210.3" stroke="#222" stroke-width="0.55"/>
<path d="M134.2,218.8 Q138.2,220.2 142.2,218.8 L143.8,222.8 Q143.6,224.4 141.6,224.4 Q138.2,222.2 134.8,224.4 Q132.6,224.4 132.6,222.8 Z" fill="#f0101a"/>
<rect x="136.2" y="225.0" width="2.4" height="6.4" fill="#148a28"/>
<rect x="138.7" y="225.0" width="2.5" height="6.4" fill="#1a30c8"/>
<rect x="136.2" y="233.0" width="2.4" height="7.0" fill="#6a8a30"/>
<rect x="138.7" y="233.0" width="2.6" height="7.0" fill="#1a1ad0"/>
</g>
<g id="panelE">
<text x="1.4" y="285.1" font-size="12" font-weight="bold" text-anchor="start" fill="#000" stroke="#000" stroke-width="0.16">E</text>
<line x1="43.0" y1="284.1" x2="46.1" y2="291.8" stroke="#2436e0" stroke-width="2.5"/>
<line x1="53.0" y1="284.1" x2="49.9" y2="291.8" stroke="#2436e0" stroke-width="2.5"/>
<line x1="46.4" y1="291.6" x2="46.6" y2="296.4" stroke="#a9a9a9" stroke-width="1.6"/>
<line x1="49.6" y1="291.6" x2="49.4" y2="296.4" stroke="#a9a9a9" stroke-width="1.6"/>
<line x1="46.5" y1="296.0" x2="46.5" y2="302.8" stroke="#a9a9a9" stroke-width="2.4"/>
<line x1="46.5" y1="304.3" x2="46.5" y2="311.6" stroke="#a9a9a9" stroke-width="2.4"/>
<line x1="49.4" y1="296.0" x2="49.4" y2="302.8" stroke="#a9a9a9" stroke-width="2.4"/>
<line x1="49.4" y1="304.3" x2="49.4" y2="311.6" stroke="#a9a9a9" stroke-width="2.4"/>
<line x1="47.95" y1="293" x2="47.95" y2="311.4" stroke="#fff" stroke-width="0.45"/>
<text x="20.0" y="301.2" font-size="7.0" font-weight="normal" text-anchor="start" fill="#151515" stroke="#151515" stroke-width="0.2">αCD16</text>
<text x="50.0" y="281.6" font-size="2.6" font-weight="normal" text-anchor="start" fill="#444" stroke="#444" stroke-width="0.2">V</text>
<text x="51.8" y="282.4" font-size="1.8" font-weight="normal" text-anchor="start" fill="#444" stroke="#444" stroke-width="0.2">HH</text>
<path d="M48.6,276.6 Q50.6,275.4 52.6,276.6 L53.6,277.4 Q56.6,277.8 58.6,280.8" fill="none" stroke="#444" stroke-width="0.5"/>
<polyline points="53.6,277.4 55.2,275.3 90.6,275.3 90.6,300.4" fill="none" stroke="#444" stroke-width="0.9"/>
<line x1="87.5" y1="301.6" x2="94.8" y2="301.6" stroke="#2a44f0" stroke-width="2.4"/>
<line x1="94.8" y1="301.6" x2="96.0" y2="301.6" stroke="#b8b8c8" stroke-width="0.5"/>
<rect x="95.9" y="299.5" width="9.0" height="4.2" rx="0.8" fill="#f0101a"/>
<line x1="104.8" y1="301.6" x2="106.0" y2="301.6" stroke="#90a090" stroke-width="0.5"/>
<line x1="106.0" y1="301.6" x2="113.2" y2="301.6" stroke="#0a7a22" stroke-width="2.3"/>
<line x1="113.2" y1="301.6" x2="115.0" y2="301.6" stroke="#90a090" stroke-width="0.5"/>
<line x1="115.0" y1="301.6" x2="122.6" y2="301.6" stroke="#5f6e3c" stroke-width="2.3"/>
<polyline points="58.2,318.6 59.6,316.5 119.4,316.5 119.4,302.6" fill="none" stroke="#444" stroke-width="0.9"/>
<polyline points="50.8,365.6 52.2,365.0 100.2,365.0 100.2,303.6" fill="none" stroke="#444" stroke-width="0.9"/>
<line x1="37.25" y1="324.60" x2="39.85" y2="331.60" stroke="#0c7a18" stroke-width="2.7"/>
<line x1="40.40" y1="333.20" x2="42.40" y2="338.90" stroke="#858585" stroke-width="2.5"/>
<line x1="40.25" y1="323.70" x2="42.75" y2="330.70" stroke="#2aa62e" stroke-width="2.7"/>
<path d="M43.25,332.30 L44.85,337.30 Q46.05,340.50 46.10,343.90" fill="none" stroke="#a9a9a9" stroke-width="2.5"/>
<line x1="38.75" y1="324.10" x2="43.75" y2="338.50" stroke="#fff" stroke-width="0.45"/>
<line x1="57.45" y1="324.60" x2="54.85" y2="331.60" stroke="#0c7a18" stroke-width="2.7"/>
<line x1="54.30" y1="333.20" x2="52.30" y2="338.90" stroke="#858585" stroke-width="2.5"/>
<line x1="54.45" y1="323.70" x2="51.95" y2="330.70" stroke="#2aa62e" stroke-width="2.7"/>
<path d="M51.45,332.30 L49.85,337.30 Q48.65,340.50 48.60,343.90" fill="none" stroke="#a9a9a9" stroke-width="2.5"/>
<line x1="55.95" y1="324.10" x2="50.95" y2="338.50" stroke="#fff" stroke-width="0.45"/>
<line x1="46.10" y1="343.50" x2="46.10" y2="350.30" stroke="#a9a9a9" stroke-width="2.2"/>
<line x1="46.10" y1="351.80" x2="46.10" y2="357.70" stroke="#a9a9a9" stroke-width="2.2"/>
<line x1="48.60" y1="343.50" x2="48.60" y2="350.30" stroke="#a9a9a9" stroke-width="2.2"/>
<line x1="48.60" y1="351.80" x2="48.60" y2="357.70" stroke="#a9a9a9" stroke-width="2.2"/>
<line x1="47.35" y1="339.90" x2="47.35" y2="357.70" stroke="#fff" stroke-width="0.4"/>
<text x="20.0" y="348.8" font-size="7.0" font-weight="normal" text-anchor="start" fill="#151515" stroke="#151515" stroke-width="0.2">αCD33</text>
<path d="M50.2,323.0 Q54.2,319.6 57.0,319.40000000000003 L58.2,318.6 L58.800000000000004,320.0 Q61.6,320.0 63.0,324.4" fill="none" stroke="#444" stroke-width="0.5"/>
<text x="47.6" y="324.0" font-size="2.8" font-weight="normal" text-anchor="start" fill="#8a4a3a" stroke="#8a4a3a" stroke-width="0.2">V</text>
<text x="49.300000000000004" y="324.7" font-size="1.9" font-weight="normal" text-anchor="start" fill="#8a4a3a" stroke="#8a4a3a" stroke-width="0.2">H</text>
<text x="60.6" y="330.6" font-size="2.8" font-weight="normal" text-anchor="start" fill="#2a7a2a" stroke="#2a7a2a" stroke-width="0.2">V</text>
<text x="62.300000000000004" y="331.3" font-size="1.9" font-weight="normal" text-anchor="start" fill="#2a7a2a" stroke="#2a7a2a" stroke-width="0.2">L</text>
<text x="21.4" y="377.3" font-size="7.0" font-weight="normal" text-anchor="start" fill="#151515" stroke="#151515" stroke-width="0.2">wtIL15</text>
<rect x="46.0" y="369.8" width="4.0" height="8.8" rx="0.7" fill="#f0101a"/>
<path d="M44.4,366.4 Q46.6,365.0 48.6,366.2 T50.8,365.6 Q54.2,366.4 55.2,369.6" fill="none" stroke="#444" stroke-width="0.5"/>
<text x="133.0" y="283.0" font-size="7.8" font-weight="normal" text-anchor="middle" fill="#1a1a1a" stroke="#1a1a1a" stroke-width="0.2" style="stroke-width:0.3">Efficient</text>
<line x1="118.6" y1="284.4" x2="147.4" y2="284.4" stroke="#222" stroke-width="0.55"/>
<rect x="133.1" y="292.0" width="2.4" height="6.9" rx="0.6" fill="#2a3ee6"/>
<rect x="132.9" y="301.2" width="4.0" height="8.6" rx="1.2" fill="#f0101a"/>
<rect x="133.8" y="311.2" width="5.4" height="8.8" rx="1.5" fill="#2d7a2a"/>
<line x1="136.6" y1="312.2" x2="136.6" y2="319.2" stroke="#8fb08a" stroke-width="0.5"/>
<path d="M135.8,294.6 Q147.4,296.6 147.4,305.6 Q147.0,312.8 141.0,316.2" fill="none" stroke="#e01020" stroke-width="1.0"/>
<path d="M140.4,316.6 L143.0,314.2 M140.4,316.6 L143.6,317.0" fill="none" stroke="#e01020" stroke-width="1.0" stroke-linecap="round"/>
<path d="M145.2,303.2 L149.8,308.0 M149.8,303.2 L145.2,308.0 M144.6,305.6 L150.4,305.6" fill="none" stroke="#e01020" stroke-width="1.3" stroke-linecap="round"/>
</g>
<g id="panelF">
<text x="171.6" y="148.3" font-size="12" font-weight="bold" text-anchor="start" fill="#000" stroke="#000" stroke-width="0.16">F</text>
<rect x="190.0" y="153.7" width="9.6" height="210.7" fill="#f7d8dc"/>
<line x1="221.11" y1="153.7" x2="221.11" y2="364.4" stroke="#e3dde2" stroke-width="0.6"/>
<line x1="252.52" y1="153.7" x2="252.52" y2="364.4" stroke="#e3dde2" stroke-width="0.6"/>
<line x1="283.93" y1="153.7" x2="283.93" y2="364.4" stroke="#e3dde2" stroke-width="0.6"/>
<line x1="315.34" y1="153.7" x2="315.34" y2="364.4" stroke="#e3dde2" stroke-width="0.6"/>
<line x1="346.75" y1="153.7" x2="346.75" y2="364.4" stroke="#e3dde2" stroke-width="0.6"/>
<line x1="378.16" y1="153.7" x2="378.16" y2="364.4" stroke="#e3dde2" stroke-width="0.6"/>
<line x1="409.57" y1="153.7" x2="409.57" y2="364.4" stroke="#e3dde2" stroke-width="0.6"/>
<line x1="440.98" y1="153.7" x2="440.98" y2="364.4" stroke="#e3dde2" stroke-width="0.6"/>
<line x1="472.39" y1="153.7" x2="472.39" y2="364.4" stroke="#e3dde2" stroke-width="0.6"/>
<line x1="503.80" y1="153.7" x2="503.80" y2="364.4" stroke="#e3dde2" stroke-width="0.6"/>
<line x1="190.0" y1="354.00" x2="519.6" y2="354.00" stroke="#e3dde2" stroke-width="0.6"/>
<line x1="190.0" y1="326.30" x2="519.6" y2="326.30" stroke="#e3dde2" stroke-width="0.6"/>
<line x1="190.0" y1="298.60" x2="519.6" y2="298.60" stroke="#e3dde2" stroke-width="0.6"/>
<line x1="190.0" y1="270.90" x2="519.6" y2="270.90" stroke="#e3dde2" stroke-width="0.6"/>
<line x1="190.0" y1="243.20" x2="519.6" y2="243.20" stroke="#e3dde2" stroke-width="0.6"/>
<line x1="190.0" y1="215.50" x2="519.6" y2="215.50" stroke="#e3dde2" stroke-width="0.6"/>
<line x1="190.0" y1="187.80" x2="519.6" y2="187.80" stroke="#e3dde2" stroke-width="0.6"/>
<line x1="190.0" y1="160.10" x2="519.6" y2="160.10" stroke="#e3dde2" stroke-width="0.6"/>
<rect x="190.0" y="153.7" width="329.6" height="210.7" fill="none" stroke="#dcd6da" stroke-width="0.6"/>
<line x1="190.3" y1="153.7" x2="190.3" y2="364.4" stroke="#edb2bb" stroke-width="0.55"/>
<line x1="192.6" y1="153.7" x2="192.6" y2="364.4" stroke="#edb2bb" stroke-width="0.55"/>
<line x1="195.7" y1="153.7" x2="195.7" y2="364.4" stroke="#edb2bb" stroke-width="0.55"/>
<line x1="197.6" y1="153.7" x2="197.6" y2="364.4" stroke="#edb2bb" stroke-width="0.55"/>
<line x1="199.4" y1="153.7" x2="199.4" y2="364.4" stroke="#edb2bb" stroke-width="0.55"/>
<line x1="236.7" y1="153.7" x2="236.7" y2="364.4" stroke="#d69ba8" stroke-width="0.7"/>
<line x1="311.4" y1="153.7" x2="311.4" y2="364.4" stroke="#d69ba8" stroke-width="0.7"/>
<line x1="331.6" y1="153.7" x2="331.6" y2="364.4" stroke="#d69ba8" stroke-width="0.7"/>
<line x1="405.7" y1="153.7" x2="405.7" y2="364.4" stroke="#d69ba8" stroke-width="0.7"/>
<line x1="190.0" y1="359.54" x2="191.2" y2="359.54" stroke="#ebb0b6" stroke-width="0.4"/>
<line x1="190.0" y1="354.00" x2="192.2" y2="354.00" stroke="#e39aa2" stroke-width="0.5"/>
<line x1="190.0" y1="348.46" x2="191.2" y2="348.46" stroke="#ebb0b6" stroke-width="0.4"/>
<line x1="190.0" y1="342.92" x2="191.2" y2="342.92" stroke="#ebb0b6" stroke-width="0.4"/>
<line x1="190.0" y1="337.38" x2="191.2" y2="337.38" stroke="#ebb0b6" stroke-width="0.4"/>
<line x1="190.0" y1="331.84" x2="191.2" y2="331.84" stroke="#ebb0b6" stroke-width="0.4"/>
<line x1="190.0" y1="326.30" x2="192.2" y2="326.30" stroke="#e39aa2" stroke-width="0.5"/>
<line x1="190.0" y1="320.76" x2="191.2" y2="320.76" stroke="#ebb0b6" stroke-width="0.4"/>
<line x1="190.0" y1="315.22" x2="191.2" y2="315.22" stroke="#ebb0b6" stroke-width="0.4"/>
<line x1="190.0" y1="309.68" x2="191.2" y2="309.68" stroke="#ebb0b6" stroke-width="0.4"/>
<line x1="190.0" y1="304.14" x2="191.2" y2="304.14" stroke="#ebb0b6" stroke-width="0.4"/>
<line x1="190.0" y1="298.60" x2="192.2" y2="298.60" stroke="#e39aa2" stroke-width="0.5"/>
<line x1="190.0" y1="293.06" x2="191.2" y2="293.06" stroke="#ebb0b6" stroke-width="0.4"/>
<line x1="190.0" y1="287.52" x2="191.2" y2="287.52" stroke="#ebb0b6" stroke-width="0.4"/>
<line x1="190.0" y1="281.98" x2="191.2" y2="281.98" stroke="#ebb0b6" stroke-width="0.4"/>
<line x1="190.0" y1="276.44" x2="191.2" y2="276.44" stroke="#ebb0b6" stroke-width="0.4"/>
<line x1="190.0" y1="270.90" x2="192.2" y2="270.90" stroke="#e39aa2" stroke-width="0.5"/>
<line x1="190.0" y1="265.36" x2="191.2" y2="265.36" stroke="#ebb0b6" stroke-width="0.4"/>
<line x1="190.0" y1="259.82" x2="191.2" y2="259.82" stroke="#ebb0b6" stroke-width="0.4"/>
<line x1="190.0" y1="254.28" x2="191.2" y2="254.28" stroke="#ebb0b6" stroke-width="0.4"/>
<line x1="190.0" y1="248.74" x2="191.2" y2="248.74" stroke="#ebb0b6" stroke-width="0.4"/>
<line x1="190.0" y1="243.20" x2="192.2" y2="243.20" stroke="#e39aa2" stroke-width="0.5"/>
<line x1="190.0" y1="237.66" x2="191.2" y2="237.66" stroke="#ebb0b6" stroke-width="0.4"/>
<line x1="190.0" y1="232.12" x2="191.2" y2="232.12" stroke="#ebb0b6" stroke-width="0.4"/>
<line x1="190.0" y1="226.58" x2="191.2" y2="226.58" stroke="#ebb0b6" stroke-width="0.4"/>
<line x1="190.0" y1="221.04" x2="191.2" y2="221.04" stroke="#ebb0b6" stroke-width="0.4"/>
<line x1="190.0" y1="215.50" x2="192.2" y2="215.50" stroke="#e39aa2" stroke-width="0.5"/>
<line x1="190.0" y1="209.96" x2="191.2" y2="209.96" stroke="#ebb0b6" stroke-width="0.4"/>
<line x1="190.0" y1="204.42" x2="191.2" y2="204.42" stroke="#ebb0b6" stroke-width="0.4"/>
<line x1="190.0" y1="198.88" x2="191.2" y2="198.88" stroke="#ebb0b6" stroke-width="0.4"/>
<line x1="190.0" y1="193.34" x2="191.2" y2="193.34" stroke="#ebb0b6" stroke-width="0.4"/>
<line x1="190.0" y1="187.80" x2="192.2" y2="187.80" stroke="#e39aa2" stroke-width="0.5"/>
<line x1="190.0" y1="182.26" x2="191.2" y2="182.26" stroke="#ebb0b6" stroke-width="0.4"/>
<line x1="190.0" y1="176.72" x2="191.2" y2="176.72" stroke="#ebb0b6" stroke-width="0.4"/>
<line x1="190.0" y1="171.18" x2="191.2" y2="171.18" stroke="#ebb0b6" stroke-width="0.4"/>
<line x1="190.0" y1="165.64" x2="191.2" y2="165.64" stroke="#ebb0b6" stroke-width="0.4"/>
<line x1="190.0" y1="160.10" x2="192.2" y2="160.10" stroke="#e39aa2" stroke-width="0.5"/>
<line x1="190.0" y1="154.56" x2="191.2" y2="154.56" stroke="#ebb0b6" stroke-width="0.4"/>
<line x1="189.70" y1="364.4" x2="189.70" y2="362.2" stroke="#e39aa2" stroke-width="0.5"/>
<line x1="195.98" y1="364.4" x2="195.98" y2="363.29999999999995" stroke="#efc0c6" stroke-width="0.4"/>
<line x1="202.26" y1="364.4" x2="202.26" y2="363.29999999999995" stroke="#efc0c6" stroke-width="0.4"/>
<line x1="208.55" y1="364.4" x2="208.55" y2="363.29999999999995" stroke="#efc0c6" stroke-width="0.4"/>
<line x1="214.83" y1="364.4" x2="214.83" y2="363.29999999999995" stroke="#efc0c6" stroke-width="0.4"/>
<line x1="221.11" y1="364.4" x2="221.11" y2="362.2" stroke="#e39aa2" stroke-width="0.5"/>
<line x1="227.39" y1="364.4" x2="227.39" y2="363.29999999999995" stroke="#efc0c6" stroke-width="0.4"/>
<line x1="233.67" y1="364.4" x2="233.67" y2="363.29999999999995" stroke="#efc0c6" stroke-width="0.4"/>
<line x1="239.96" y1="364.4" x2="239.96" y2="363.29999999999995" stroke="#efc0c6" stroke-width="0.4"/>
<line x1="246.24" y1="364.4" x2="246.24" y2="363.29999999999995" stroke="#efc0c6" stroke-width="0.4"/>
<line x1="252.52" y1="364.4" x2="252.52" y2="362.2" stroke="#e39aa2" stroke-width="0.5"/>
<line x1="258.80" y1="364.4" x2="258.80" y2="363.29999999999995" stroke="#efc0c6" stroke-width="0.4"/>
<line x1="265.08" y1="364.4" x2="265.08" y2="363.29999999999995" stroke="#efc0c6" stroke-width="0.4"/>
<line x1="271.37" y1="364.4" x2="271.37" y2="363.29999999999995" stroke="#efc0c6" stroke-width="0.4"/>
<line x1="277.65" y1="364.4" x2="277.65" y2="363.29999999999995" stroke="#efc0c6" stroke-width="0.4"/>
<line x1="283.93" y1="364.4" x2="283.93" y2="362.2" stroke="#e39aa2" stroke-width="0.5"/>
<line x1="290.21" y1="364.4" x2="290.21" y2="363.29999999999995" stroke="#efc0c6" stroke-width="0.4"/>
<line x1="296.49" y1="364.4" x2="296.49" y2="363.29999999999995" stroke="#efc0c6" stroke-width="0.4"/>
<line x1="302.78" y1="364.4" x2="302.78" y2="363.29999999999995" stroke="#efc0c6" stroke-width="0.4"/>
<line x1="309.06" y1="364.4" x2="309.06" y2="363.29999999999995" stroke="#efc0c6" stroke-width="0.4"/>
<line x1="315.34" y1="364.4" x2="315.34" y2="362.2" stroke="#e39aa2" stroke-width="0.5"/>
<line x1="321.62" y1="364.4" x2="321.62" y2="363.29999999999995" stroke="#efc0c6" stroke-width="0.4"/>
<line x1="327.90" y1="364.4" x2="327.90" y2="363.29999999999995" stroke="#efc0c6" stroke-width="0.4"/>
<line x1="334.19" y1="364.4" x2="334.19" y2="363.29999999999995" stroke="#efc0c6" stroke-width="0.4"/>
<line x1="340.47" y1="364.4" x2="340.47" y2="363.29999999999995" stroke="#efc0c6" stroke-width="0.4"/>
<line x1="346.75" y1="364.4" x2="346.75" y2="362.2" stroke="#e39aa2" stroke-width="0.5"/>
<line x1="353.03" y1="364.4" x2="353.03" y2="363.29999999999995" stroke="#efc0c6" stroke-width="0.4"/>
<line x1="359.31" y1="364.4" x2="359.31" y2="363.29999999999995" stroke="#efc0c6" stroke-width="0.4"/>
<line x1="365.60" y1="364.4" x2="365.60" y2="363.29999999999995" stroke="#efc0c6" stroke-width="0.4"/>
<line x1="371.88" y1="364.4" x2="371.88" y2="363.29999999999995" stroke="#efc0c6" stroke-width="0.4"/>
<line x1="378.16" y1="364.4" x2="378.16" y2="362.2" stroke="#e39aa2" stroke-width="0.5"/>
<line x1="384.44" y1="364.4" x2="384.44" y2="363.29999999999995" stroke="#efc0c6" stroke-width="0.4"/>
<line x1="390.72" y1="364.4" x2="390.72" y2="363.29999999999995" stroke="#efc0c6" stroke-width="0.4"/>
<line x1="397.01" y1="364.4" x2="397.01" y2="363.29999999999995" stroke="#efc0c6" stroke-width="0.4"/>
<line x1="403.29" y1="364.4" x2="403.29" y2="363.29999999999995" stroke="#efc0c6" stroke-width="0.4"/>
<line x1="409.57" y1="364.4" x2="409.57" y2="362.2" stroke="#e39aa2" stroke-width="0.5"/>
<line x1="415.85" y1="364.4" x2="415.85" y2="363.29999999999995" stroke="#efc0c6" stroke-width="0.4"/>
<line x1="422.13" y1="364.4" x2="422.13" y2="363.29999999999995" stroke="#efc0c6" stroke-width="0.4"/>
<line x1="428.42" y1="364.4" x2="428.42" y2="363.29999999999995" stroke="#efc0c6" stroke-width="0.4"/>
<line x1="434.70" y1="364.4" x2="434.70" y2="363.29999999999995" stroke="#efc0c6" stroke-width="0.4"/>
<line x1="440.98" y1="364.4" x2="440.98" y2="362.2" stroke="#e39aa2" stroke-width="0.5"/>
<line x1="447.26" y1="364.4" x2="447.26" y2="363.29999999999995" stroke="#efc0c6" stroke-width="0.4"/>
<line x1="453.54" y1="364.4" x2="453.54" y2="363.29999999999995" stroke="#efc0c6" stroke-width="0.4"/>
<line x1="459.83" y1="364.4" x2="459.83" y2="363.29999999999995" stroke="#efc0c6" stroke-width="0.4"/>
<line x1="466.11" y1="364.4" x2="466.11" y2="363.29999999999995" stroke="#efc0c6" stroke-width="0.4"/>
<line x1="472.39" y1="364.4" x2="472.39" y2="362.2" stroke="#e39aa2" stroke-width="0.5"/>
<line x1="478.67" y1="364.4" x2="478.67" y2="363.29999999999995" stroke="#efc0c6" stroke-width="0.4"/>
<line x1="484.95" y1="364.4" x2="484.95" y2="363.29999999999995" stroke="#efc0c6" stroke-width="0.4"/>
<line x1="491.24" y1="364.4" x2="491.24" y2="363.29999999999995" stroke="#efc0c6" stroke-width="0.4"/>
<line x1="497.52" y1="364.4" x2="497.52" y2="363.29999999999995" stroke="#efc0c6" stroke-width="0.4"/>
<line x1="503.80" y1="364.4" x2="503.80" y2="362.2" stroke="#e39aa2" stroke-width="0.5"/>
<line x1="510.08" y1="364.4" x2="510.08" y2="363.29999999999995" stroke="#efc0c6" stroke-width="0.4"/>
<line x1="516.36" y1="364.4" x2="516.36" y2="363.29999999999995" stroke="#efc0c6" stroke-width="0.4"/>
<text x="187.6" y="355.30" font-size="3.6" font-weight="bold" text-anchor="end" fill="#333" stroke="#333" stroke-width="0.16">-5</text>
<text x="187.6" y="327.60" font-size="3.6" font-weight="bold" text-anchor="end" fill="#333" stroke="#333" stroke-width="0.16">-4</text>
<text x="187.6" y="299.90" font-size="3.6" font-weight="bold" text-anchor="end" fill="#333" stroke="#333" stroke-width="0.16">-3</text>
<text x="187.6" y="272.20" font-size="3.6" font-weight="bold" text-anchor="end" fill="#333" stroke="#333" stroke-width="0.16">-2</text>
<text x="187.6" y="244.50" font-size="3.6" font-weight="bold" text-anchor="end" fill="#333" stroke="#333" stroke-width="0.16">-1</text>
<text x="187.6" y="216.80" font-size="3.6" font-weight="bold" text-anchor="end" fill="#333" stroke="#333" stroke-width="0.16">0</text>
<text x="187.6" y="189.10" font-size="3.6" font-weight="bold" text-anchor="end" fill="#333" stroke="#333" stroke-width="0.16">1</text>
<text x="187.6" y="161.40" font-size="3.6" font-weight="bold" text-anchor="end" fill="#333" stroke="#333" stroke-width="0.16">2</text>
<text x="189.70" y="373.2" font-size="3.4" font-weight="bold" text-anchor="middle" fill="#333" stroke="#333" stroke-width="0.16">0</text>
<text x="221.11" y="373.2" font-size="3.4" font-weight="bold" text-anchor="middle" fill="#333" stroke="#333" stroke-width="0.16">100</text>
<text x="252.52" y="373.2" font-size="3.4" font-weight="bold" text-anchor="middle" fill="#333" stroke="#333" stroke-width="0.16">200</text>
<text x="283.93" y="373.2" font-size="3.4" font-weight="bold" text-anchor="middle" fill="#333" stroke="#333" stroke-width="0.16">300</text>
<text x="315.34" y="373.2" font-size="3.4" font-weight="bold" text-anchor="middle" fill="#333" stroke="#333" stroke-width="0.16">400</text>
<text x="346.75" y="373.2" font-size="3.4" font-weight="bold" text-anchor="middle" fill="#333" stroke="#333" stroke-width="0.16">500</text>
<text x="378.16" y="373.2" font-size="3.4" font-weight="bold" text-anchor="middle" fill="#333" stroke="#333" stroke-width="0.16">600</text>
<text x="409.57" y="373.2" font-size="3.4" font-weight="bold" text-anchor="middle" fill="#333" stroke="#333" stroke-width="0.16">700</text>
<text x="440.98" y="373.2" font-size="3.4" font-weight="bold" text-anchor="middle" fill="#333" stroke="#333" stroke-width="0.16">800</text>
<text x="472.39" y="373.2" font-size="3.4" font-weight="bold" text-anchor="middle" fill="#333" stroke="#333" stroke-width="0.16">900</text>
<text x="503.80" y="373.2" font-size="3.4" font-weight="bold" text-anchor="middle" fill="#333" stroke="#333" stroke-width="0.16">1000</text>
<text x="180.9" y="249.0" font-size="6.9" font-weight="normal" text-anchor="middle" fill="#222" stroke="#222" stroke-width="0.2" transform="rotate(-90 180.9 249.0)">Response (nm)</text>
<text x="364.6" y="381.3" font-size="7.0" font-weight="normal" text-anchor="middle" fill="#222" stroke="#222" stroke-width="0.2">Time (sec)</text>
<polyline points="199.20,364.20 199.30,320.00 199.40,290.00 199.60,270.00 199.90,261.00 200.40,256.00" fill="none" stroke="#8a6a3a" stroke-width="0.7" stroke-linejoin="round" stroke-linecap="round"/>
<polyline points="199.65,364.20 199.75,320.00 199.85,290.00 200.05,270.00 200.35,261.00 200.85,256.00" fill="none" stroke="#efa13e" stroke-width="0.45" stroke-linejoin="round" stroke-linecap="round"/>
<polyline points="199.90,261.00 200.40,255.79 201.10,252.22 202.00,249.75 203.20,247.92 206.00,246.30 212.00,245.30 220.00,244.50 228.00,243.90 236.60,243.40 237.00,237.91 237.60,232.46 238.40,229.01 239.50,226.49 241.00,224.59 243.00,222.93 246.00,221.54 250.00,220.52 255.00,219.77 262.00,218.97 270.00,218.07 280.00,217.17 290.00,216.38 300.00,215.67 311.20,214.97" fill="none" stroke="#efa13e" stroke-width="0.6" stroke-linejoin="round" stroke-linecap="round"/>
<polyline points="311.20,215.70 312.50,216.40 315.00,217.00 320.00,217.40 326.00,217.40 331.40,217.00" fill="none" stroke="#efa13e" stroke-width="0.7" stroke-linejoin="round" stroke-linecap="round"/>
<polyline points="199.90,261.00 200.40,255.84 201.10,252.36 202.00,250.00 203.20,248.32 206.00,246.80 212.00,245.80 220.00,245.00 228.00,244.40 236.60,243.90 237.00,238.41 237.60,232.94 238.40,229.49 239.50,226.94 241.00,225.02 243.00,223.33 246.00,221.89 250.00,220.80 255.00,219.97 262.00,219.10 270.00,218.20 280.00,217.30 290.00,216.50 300.00,215.80 311.20,215.10" fill="none" stroke="#7a4a22" stroke-width="0.6" stroke-linejoin="round" stroke-linecap="round"/>
<polyline points="311.20,215.20 313.00,215.60 320.00,215.80 326.00,215.70 331.40,215.20" fill="none" stroke="#7a4a22" stroke-width="0.7" stroke-linejoin="round" stroke-linecap="round"/>
<polyline points="199.90,261.00 200.40,256.07 201.10,252.99 202.00,251.15 203.20,250.16 206.00,249.10 212.00,248.10 220.00,247.30 228.00,246.70 236.60,246.20 237.00,240.70 237.60,235.18 238.40,231.66 239.50,229.04 241.00,227.00 243.00,225.16 246.00,223.49 250.00,222.09 255.00,220.88 262.00,219.68 270.00,218.78 280.00,217.88 290.00,217.08 300.00,216.38 311.20,215.68" fill="none" stroke="#59ad4a" stroke-width="0.6" stroke-linejoin="round" stroke-linecap="round"/>
<polyline points="311.20,215.70 312.50,216.40 315.00,217.00 320.00,217.40 326.00,217.40 331.40,217.00" fill="none" stroke="#59ad4a" stroke-width="0.7" stroke-linejoin="round" stroke-linecap="round"/>
<polyline points="199.90,261.00 200.40,256.05 201.10,252.94 202.00,251.05 203.20,250.00 206.00,248.90 212.00,247.90 220.00,247.10 228.00,246.50 236.60,246.00 237.00,240.50 237.60,234.99 238.40,231.47 239.50,228.86 241.00,226.83 243.00,225.00 246.00,223.35 250.00,221.98 255.00,220.80 262.00,219.62 270.00,218.72 280.00,217.82 290.00,217.03 300.00,216.32 311.20,215.62" fill="none" stroke="#8a8f2e" stroke-width="0.6" stroke-linejoin="round" stroke-linecap="round"/>
<polyline points="311.20,215.70 312.50,216.40 315.00,217.00 320.00,217.40 326.00,217.40 331.40,217.00" fill="none" stroke="#8a8f2e" stroke-width="0.7" stroke-linejoin="round" stroke-linecap="round"/>
<polyline points="199.60,231.50 200.20,227.50 201.00,225.40 202.20,224.00 204.00,222.80 207.00,221.80 212.00,220.80 220.00,219.90 228.00,219.20 236.70,218.60 250.00,217.80 265.00,217.00 280.00,216.30 295.00,215.70 311.20,215.00" fill="none" stroke="#6f78d2" stroke-width="0.7" stroke-linejoin="round" stroke-linecap="round"/>
<polyline points="311.20,215.00 313.00,215.40 320.00,215.60 326.00,215.50 331.40,215.00" fill="none" stroke="#7b7fd6" stroke-width="0.7" stroke-linejoin="round" stroke-linecap="round"/>
<polyline points="331.60,215.40 333.00,213.00 335.00,210.20 338.00,207.40 341.00,205.40 345.00,203.60 349.00,202.20 354.00,200.80 360.00,199.30 368.00,197.80 377.80,196.10 390.00,194.00 400.00,192.60 405.70,191.80 408.00,192.20 412.00,192.80 420.00,193.60 440.00,194.20 470.00,194.60 500.00,194.90 519.40,195.10" fill="none" stroke="#6f9fd8" stroke-width="0.6" stroke-linejoin="round" stroke-linecap="round"/>
<polyline points="331.60,214.80 333.00,212.40 335.00,209.60 338.00,206.80 341.00,204.80 345.00,203.00 349.00,201.60 354.00,200.20 360.00,198.70 368.00,197.20 377.80,195.50 390.00,193.40 400.00,192.00 405.70,191.20 408.00,191.60 412.00,192.20 420.00,193.00 440.00,193.60 470.00,194.00 500.00,194.30 519.40,194.50" fill="none" stroke="#7b7fd6" stroke-width="0.65" stroke-linejoin="round" stroke-linecap="round"/>
<polyline points="331.60,216.40 333.00,214.00 335.00,211.40 338.00,208.40 341.00,206.00 345.00,203.60 349.00,201.60 354.00,199.40 360.00,197.20 368.00,194.80 377.80,192.20 390.00,189.50 400.00,187.40 405.70,186.40 408.00,187.00 412.00,188.00 420.00,189.70 430.00,191.60 440.00,193.00 455.00,194.60 470.00,195.60 485.00,196.30 500.00,196.90 519.40,197.40" fill="none" stroke="#efa13e" stroke-width="0.7" stroke-linejoin="round" stroke-linecap="round"/>
<polyline points="331.60,215.20 333.00,212.60 335.00,209.60 338.00,205.60 341.00,202.30 345.00,198.40 349.00,195.00 354.00,191.40 360.00,188.00 368.00,184.20 377.80,180.60 390.00,176.60 400.00,173.90 405.70,172.50 408.00,173.20 412.00,174.20 420.00,175.80 430.00,177.50 440.00,179.00 455.00,181.00 470.00,182.60 485.00,184.00 500.00,185.20 519.40,186.40" fill="none" stroke="#59ad4a" stroke-width="0.7" stroke-linejoin="round" stroke-linecap="round"/>
<polyline points="331.60,214.40 332.40,207.00 333.20,199.50 334.20,192.00 335.40,185.40 336.80,180.00 338.20,176.60 339.60,174.20 341.50,172.00 344.00,170.20 347.00,168.80 350.00,167.80 356.00,166.50 364.00,165.20 372.00,164.20 380.00,163.20 390.00,162.20 400.00,161.30 405.70,160.80 407.00,161.80 410.00,163.50 415.00,165.40 420.00,167.00 430.00,169.20 440.00,171.00 455.00,172.80 470.00,174.20 485.00,175.60 500.00,176.70 519.40,177.90" fill="none" stroke="#6a2a2a" stroke-width="0.8" stroke-linejoin="round" stroke-linecap="round"/>
<polyline points="331.60,214.40 332.40,207.00 333.20,199.50 334.20,192.00 335.40,185.40 336.80,180.00 338.20,176.60 339.60,174.20 341.50,172.00 344.00,170.20 347.00,168.80 350.00,167.80 356.00,166.50 364.00,165.20 372.00,164.20 380.00,163.20 390.00,162.20 400.00,161.30 405.70,160.80 407.00,161.80 410.00,163.50 415.00,165.40 420.00,167.00 430.00,169.20 440.00,171.00 455.00,172.80 470.00,174.20 485.00,175.60 500.00,176.70 519.40,177.90" fill="none" stroke="#b83a30" stroke-width="0.55" stroke-linejoin="round" stroke-linecap="round"/>
<polyline points="331.60,214.40 332.40,206.00 333.20,198.00 334.20,190.00 335.40,183.00 336.80,177.60 338.20,174.00 339.60,171.40 341.50,168.80 344.00,166.40 347.00,164.50 350.00,163.10 356.00,161.40 364.00,159.80 372.00,158.40 380.00,157.20 390.00,155.80 400.00,154.60 405.70,153.90 407.00,155.00 410.00,156.80 415.00,158.80 420.00,160.40 430.00,162.60 440.00,164.30 455.00,166.20 470.00,167.70 485.00,169.20 500.00,170.50 519.40,172.00" fill="none" stroke="#2a2f5a" stroke-width="0.8" stroke-linejoin="round" stroke-linecap="round"/>
<polyline points="331.60,214.40 332.40,206.00 333.20,198.00 334.20,190.00 335.40,183.00 336.80,177.60 338.20,174.00 339.60,171.40 341.50,168.80 344.00,166.40 347.00,164.50 350.00,163.10 356.00,161.40 364.00,159.80 372.00,158.40 380.00,157.20 390.00,155.80 400.00,154.60 405.70,153.90 407.00,155.00 410.00,156.80 415.00,158.80 420.00,160.40 430.00,162.60 440.00,164.30 455.00,166.20 470.00,167.70 485.00,169.20 500.00,170.50 519.40,172.00" fill="none" stroke="#3a63c8" stroke-width="0.55" stroke-linejoin="round" stroke-linecap="round"/>
<polyline points="192.20,364.20 192.30,300.00 192.50,268.00 192.80,259.00 193.40,253.00" fill="none" stroke="#efa13e" stroke-width="0.45" stroke-linejoin="round" stroke-linecap="round" opacity="0.6"/>
<polyline points="192.50,364.20 192.60,300.00 192.80,268.00 193.10,259.00 193.70,253.00" fill="none" stroke="#7a4a22" stroke-width="0.45" stroke-linejoin="round" stroke-linecap="round" opacity="0.6"/>
<polyline points="195.30,364.20 195.40,300.00 195.60,268.00 195.90,259.00 196.50,253.00" fill="none" stroke="#efa13e" stroke-width="0.45" stroke-linejoin="round" stroke-linecap="round" opacity="0.6"/>
<polyline points="195.60,364.20 195.70,300.00 195.90,268.00 196.20,259.00 196.80,253.00" fill="none" stroke="#8a8f2e" stroke-width="0.45" stroke-linejoin="round" stroke-linecap="round" opacity="0.6"/>
<line x1="192.6" y1="232.0" x2="193.8" y2="226.5" stroke="#7b7fd6" stroke-width="0.6"/>
<line x1="195.6" y1="231.0" x2="196.8" y2="225.5" stroke="#6f9fd8" stroke-width="0.6"/>
<polyline points="189.90,318.60 190.80,322.60 191.20,326.60 192.10,329.60" fill="none" stroke="#7b7fd6" stroke-width="0.6" stroke-linejoin="round" stroke-linecap="round"/>
<polyline points="193.50,321.90 194.40,325.90 194.80,329.90 195.70,332.90" fill="none" stroke="#7b7fd6" stroke-width="0.6" stroke-linejoin="round" stroke-linecap="round"/>
<polyline points="197.00,325.00 197.90,329.00 198.30,333.00 199.20,336.00" fill="none" stroke="#2f4da6" stroke-width="0.6" stroke-linejoin="round" stroke-linecap="round"/>
<polyline points="190.00,346.00 190.90,350.00 191.30,354.00 192.20,358.00" fill="none" stroke="#efa13e" stroke-width="0.6" stroke-linejoin="round" stroke-linecap="round"/>
<polyline points="193.50,349.00 194.40,353.00 194.80,357.00 195.70,361.00" fill="none" stroke="#efa13e" stroke-width="0.6" stroke-linejoin="round" stroke-linecap="round"/>
<polyline points="197.00,352.00 197.90,356.00 198.30,360.00 199.20,364.00" fill="none" stroke="#7a4a22" stroke-width="0.6" stroke-linejoin="round" stroke-linecap="round"/>
<text x="218.2" y="260.8" font-size="8.6" font-weight="normal" text-anchor="middle" fill="#222" stroke="#222" stroke-width="0.2">1</text>
<text x="218.2" y="269.00" font-size="7" text-anchor="middle" fill="#222" stroke="#222" stroke-width="0.18">Biosensor</text>
<text x="218.2" y="277.45" font-size="7" text-anchor="middle" fill="#222" stroke="#222" stroke-width="0.18">probe</text>
<text x="218.2" y="285.90" font-size="7" text-anchor="middle" fill="#222" stroke="#222" stroke-width="0.18">preparation</text>
<text x="276.0" y="260.8" font-size="8.6" font-weight="normal" text-anchor="middle" fill="#222" stroke="#222" stroke-width="0.2">2</text>
<text x="276.0" y="269.00" font-size="7" text-anchor="middle" fill="#222" stroke="#222" stroke-width="0.18">Capture of ligand:</text>
<text x="276.0" y="277.45" font-size="7" text-anchor="middle" fill="#222" stroke="#222" stroke-width="0.18">CD16a, CD16b,</text>
<text x="276.0" y="285.90" font-size="7" text-anchor="middle" fill="#222" stroke="#222" stroke-width="0.18">or PBS (control)</text>
<text x="322.0" y="260.8" font-size="8.6" font-weight="normal" text-anchor="middle" fill="#222" stroke="#222" stroke-width="0.2">3</text>
<text x="322.0" y="269.00" font-size="7" text-anchor="middle" fill="#222" stroke="#222" stroke-width="0.18">Baseline</text>
<text x="322.0" y="277.45" font-size="7" text-anchor="middle" fill="#222" stroke="#222" stroke-width="0.18">in assay</text>
<text x="322.0" y="285.90" font-size="7" text-anchor="middle" fill="#222" stroke="#222" stroke-width="0.18">buffer</text>
<text x="371.0" y="260.8" font-size="8.6" font-weight="normal" text-anchor="middle" fill="#222" stroke="#222" stroke-width="0.2">4</text>
<text x="371.0" y="269.00" font-size="7" text-anchor="middle" fill="#222" stroke="#222" stroke-width="0.18">Association with</text>
<text x="371.0" y="277.45" font-size="7" text-anchor="middle" fill="#222" stroke="#222" stroke-width="0.18">antigen (K<tspan font-size="4.2" dy="1.4">on</tspan><tspan dy="-1.4">):</tspan></text>
<text x="371.0" y="285.90" font-size="7" text-anchor="middle" fill="#222" stroke="#222" stroke-width="0.18">scFv16-m15-33 or</text>
<text x="371.0" y="294.35" font-size="7" text-anchor="middle" fill="#222" stroke="#222" stroke-width="0.18">cam16-wt15-33</text>
<text x="467.0" y="260.8" font-size="8.6" font-weight="normal" text-anchor="middle" fill="#222" stroke="#222" stroke-width="0.2">5</text>
<text x="467.0" y="269.00" font-size="7" text-anchor="middle" fill="#222" stroke="#222" stroke-width="0.18">Dissociation in</text>
<text x="467.0" y="277.45" font-size="7" text-anchor="middle" fill="#222" stroke="#222" stroke-width="0.18">assay buffer (K<tspan font-size="4.2" dy="1.4">off</tspan><tspan dy="-1.4">)</tspan></text>
<rect x="303.9" y="306.5" width="214.3" height="53.0" fill="#fff" stroke="#444" stroke-width="0.6"/>
<text x="306.4" y="314.40" font-size="6.9" font-weight="normal" text-anchor="start" fill="#777" stroke="#777" stroke-width="0.2">-</text>
<text x="309.0" y="314.40" font-size="6.95" font-weight="normal" text-anchor="start" fill="#111" stroke="#111" stroke-width="0.2">Ligand: CD16a;</text>
<text x="377.6" y="314.40" font-size="6.88" font-weight="normal" text-anchor="start" fill="#111" stroke="#111" stroke-width="0.2">Analyte: scFv16-m15-33 in PBS+0.1%BSA</text>
<text x="306.4" y="322.84" font-size="6.9" font-weight="normal" text-anchor="start" fill="#777" stroke="#777" stroke-width="0.2">-</text>
<text x="309.0" y="322.84" font-size="6.95" font-weight="normal" text-anchor="start" fill="#111" stroke="#111" stroke-width="0.2">Ligand: CD16b;</text>
<text x="377.6" y="322.84" font-size="6.88" font-weight="normal" text-anchor="start" fill="#111" stroke="#111" stroke-width="0.2">Analyte: scFv16-m15-33 in PBS+0.1%BSA</text>
<text x="306.4" y="331.28" font-size="6.9" font-weight="normal" text-anchor="start" fill="#777" stroke="#777" stroke-width="0.2">-</text>
<text x="309.0" y="331.28" font-size="6.95" font-weight="normal" text-anchor="start" fill="#111" stroke="#111" stroke-width="0.2">Ligand: PBS;</text>
<text x="377.6" y="331.28" font-size="6.88" font-weight="normal" text-anchor="start" fill="#111" stroke="#111" stroke-width="0.2">Analyte: scFv16-m15-33 in PBS+0.1%BSA</text>
<text x="306.4" y="339.72" font-size="6.9" font-weight="normal" text-anchor="start" fill="#777" stroke="#777" stroke-width="0.2">-</text>
<text x="309.0" y="339.72" font-size="6.95" font-weight="normal" text-anchor="start" fill="#111" stroke="#111" stroke-width="0.2">Ligand: CD16a;</text>
<text x="377.6" y="339.72" font-size="6.88" font-weight="normal" text-anchor="start" fill="#111" stroke="#111" stroke-width="0.2">Analyte: cam16-wt15-33 in PBS+0.1%BSA</text>
<text x="306.4" y="348.16" font-size="6.9" font-weight="normal" text-anchor="start" fill="#777" stroke="#777" stroke-width="0.2">-</text>
<text x="309.0" y="348.16" font-size="6.95" font-weight="normal" text-anchor="start" fill="#111" stroke="#111" stroke-width="0.2">Ligand: CD16b;</text>
<text x="377.6" y="348.16" font-size="6.88" font-weight="normal" text-anchor="start" fill="#111" stroke="#111" stroke-width="0.2">Analyte: cam16-wt15-33 in PBS+0.1%BSA</text>
<text x="306.4" y="356.60" font-size="6.9" font-weight="normal" text-anchor="start" fill="#777" stroke="#777" stroke-width="0.2">-</text>
<text x="309.0" y="356.60" font-size="6.95" font-weight="normal" text-anchor="start" fill="#111" stroke="#111" stroke-width="0.2">Ligand: PBS;</text>
<text x="377.6" y="356.60" font-size="6.88" font-weight="normal" text-anchor="start" fill="#111" stroke="#111" stroke-width="0.2">Analyte: cam16-wt15-33 in PBS+0.1%BSA</text>
</g>
</svg>
</body></html>
